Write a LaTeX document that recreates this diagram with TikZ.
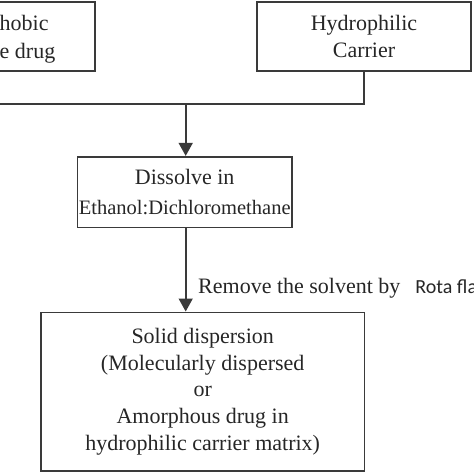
\documentclass[tikz,border=0pt]{standalone}
\usepackage{fontspec}
\setmainfont{Liberation Serif}
\newfontfamily\calib{Carlito}
\usetikzlibrary{arrows.meta}
\definecolor{linec}{HTML}{3A3A3A}
\definecolor{textc}{HTML}{262626}
\tikzset{
  box/.style={draw=linec, line width=1.6pt, rectangle, inner sep=0pt, align=center,
    text=textc, font=\fontsize{22}{27.3}\selectfont},
  txt/.style={inner sep=0pt, text=textc, font=\fontsize{22}{27.3}\selectfont},
  conn/.style={draw=linec, line width=1.6pt},
  arr/.style={conn, -{Triangle[width=14pt,length=13pt]}},
}
\begin{document}
\begin{tikzpicture}[x=1pt,y=-1pt]
\useasboundingbox (0,0) rectangle (474,474);
\clip (0,0) rectangle (474,474);
% boxes
\node[box, minimum width=195pt, minimum height=69pt] (lb) at (-2.5,36.2) {};
\node[txt, anchor=base west] (lt1) at (-0.5,30.5) {hobic};
\node[txt, anchor=base west] (lt2) at (-0.5,58) {e drug};
\node[box, minimum width=214pt, minimum height=69pt] (rb) at (364,36.2) {Hydrophilic\\Carrier};
\node[box, minimum width=214.7pt, minimum height=70.6pt,
  font=\fontsize{22}{30.3}\selectfont] (dis) at (184.7,192)
  {Dissolve in\\{\fontsize{20.5}{30.3}\selectfont Ethanol:Dichloromethane}};
\node[box, minimum width=323.3pt, minimum height=158.4pt,
  font=\fontsize{22}{26.7}\selectfont] (sd) at (202.7,391.5)
  {Solid dispersion\\(Molecularly dispersed\\or\\Amorphous drug in\\hydrophilic carrier matrix)};
% connectors
\coordinate (j) at (185.7,104);
\draw[conn] (lb.south) |- (j);
\draw[conn] (rb.south) |- (j);
\draw[arr] (j) -- (j |- dis.north);
\draw[arr] (j |- dis.south) -- (j |- sd.north);
\node[txt, anchor=base west] (lab) at (198,293)
  {Remove the solvent by\hspace{15pt}{\calib\fontsize{20}{24}\selectfont Rota fla}};
\end{tikzpicture}
\end{document}
